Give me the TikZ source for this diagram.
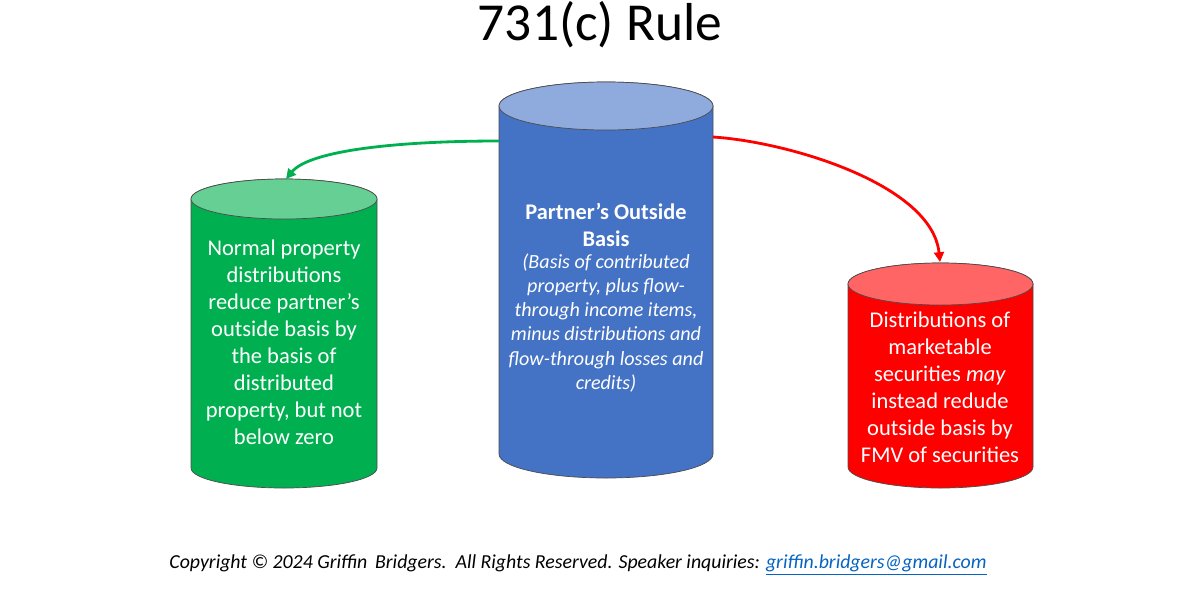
\documentclass[tikz,border=0pt]{standalone}
\usepackage{fontspec}
\setmainfont{Carlito}
\usetikzlibrary{arrows.meta}

\definecolor{drumgreen}{HTML}{00B050}
\definecolor{drumgreenlid}{HTML}{66CF93}
\definecolor{drumblue}{HTML}{4472C4}
\definecolor{drumbluelid}{HTML}{8FAADC}
\definecolor{drumred}{HTML}{FF0000}
\definecolor{drumredlid}{HTML}{FF6565}
\definecolor{arrowgreen}{HTML}{00B050}
\definecolor{linkblue}{HTML}{0563C1}

\tikzset{
	rim/.style={draw=black!70, line width=0.5pt},
	flowarrow/.style={line width=2pt, -{Triangle[length=7pt,width=7pt]}},
	drumtext/.style={text=white, align=center, inner sep=0pt, font=\fontsize{16}{19.2}\selectfont}
}

\begin{document}
\begin{tikzpicture}[x=0.025cm, y=0.025cm]

	\useasboundingbox (0,0) rectangle (1200,-600);

	%Title
	\node[font=\fontsize{38}{44}\selectfont] (title) at (600,-25) {731(c) Rule};

	%The green drum
	\filldraw[rim, fill=drumgreen] (191,-199) -- (191,-468) arc[start angle=180, end angle=360, x radius=93, y radius=20] -- (377,-199) arc[start angle=0, end angle=180, x radius=93, y radius=20] -- cycle;
	\filldraw[rim, fill=drumgreenlid] (284,-199) ellipse[x radius=93, y radius=20];

	%The blue drum
	\filldraw[rim, fill=drumblue] (499,-106) -- (499,-454) arc[start angle=180, end angle=360, x radius=107, y radius=24] -- (713,-106) arc[start angle=0, end angle=180, x radius=107, y radius=24] -- cycle;
	\filldraw[rim, fill=drumbluelid] (606,-106) ellipse[x radius=107, y radius=24];

	%The red drum
	\filldraw[rim, fill=drumred] (848,-284) -- (848,-467) arc[start angle=180, end angle=360, x radius=92.5, y radius=21] -- (1033,-284) arc[start angle=0, end angle=180, x radius=92.5, y radius=21] -- cycle;
	\filldraw[rim, fill=drumredlid] (940.5,-284) ellipse[x radius=92.5, y radius=21];

	%Texts in the drums
	\node[drumtext] (normaltxt) at (284,-342) {Normal property\\distributions\\reduce partner’s\\outside basis by\\the basis of\\distributed\\property, but not\\below zero};
	\node[drumtext, font=\bfseries\fontsize{15.9}{19.2}\selectfont] (basishead) at (606,-225) {Partner’s Outside\\Basis};
	\node[drumtext, font=\itshape\fontsize{14.3}{17.1}\selectfont] (basistxt) at (606,-323) {(Basis of contributed\\property, plus flow-\\through income items,\\minus distributions and\\flow-through losses and\\credits)};
	\node[drumtext] (securtxt) at (940,-387) {Distributions of\\marketable\\securities \emph{may}\\instead redude\\outside basis by\\FMV of securities};

	%Arrows out of the blue drum
	\coordinate (blueleft) at (499,-141);
	\coordinate (blueright) at (713,-137);
	\coordinate (greenlid) at (286,-179);
	\coordinate (redlid) at (940,-262);
	\draw[flowarrow, arrowgreen] (blueleft) .. controls (400,-141) and (310,-150) .. (greenlid);
	\draw[flowarrow, drumred] (blueright) .. controls (790,-142) and (932,-185) .. (redlid);

	%Footer
	\node[font=\itshape\fontsize{14.1}{17}\selectfont] (footer) at (578,-565) {Copyright © 2024 Griffin\, Bridgers.\ \ All Rights Reserved. Speaker inquiries: \textcolor{linkblue}{\underline{griffin.bridgers@gmail.com}}};

\end{tikzpicture}
\end{document}
